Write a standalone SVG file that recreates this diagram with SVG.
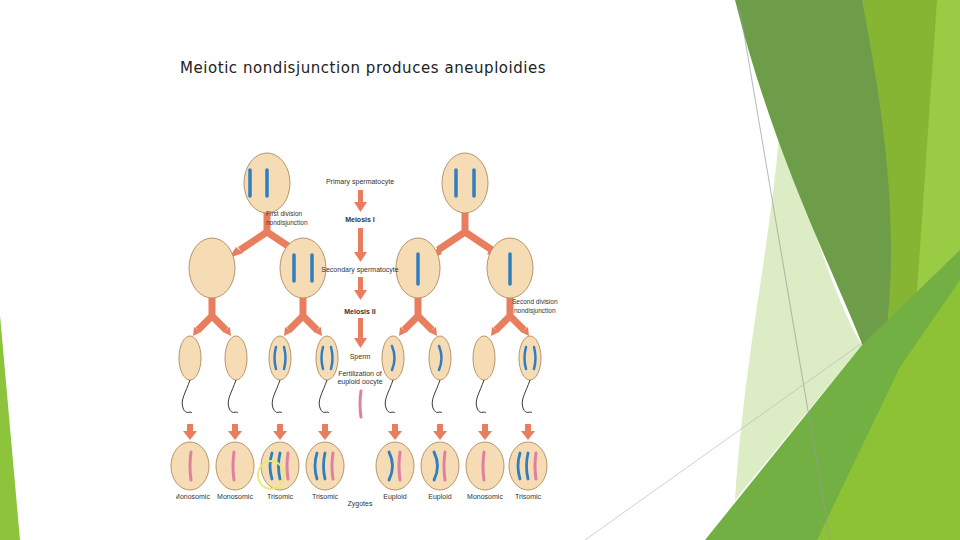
<svg xmlns="http://www.w3.org/2000/svg" width="960" height="540" viewBox="0 0 960 540">
<defs>
<style>
.cell{fill:#f6dcb4;stroke:#b89468;stroke-width:1}
.b{stroke:#2f7fc0;stroke-width:3.5;stroke-linecap:round;fill:none}
.p{stroke:#e080a0;stroke-width:3;stroke-linecap:round;fill:none}
.ar{fill:#e97e5e}
.y{stroke:#e97e5e;stroke-width:7;fill:none}
.t{font-family:"Liberation Sans",Arial,sans-serif;font-size:6.5px;fill:#333}
.lb{font-family:"Liberation Sans",Arial,sans-serif;font-size:7px;fill:#333;text-anchor:middle}
.tail{stroke:#222;stroke-width:0.9;fill:none}
</style>
<clipPath id="cl"><rect x="176" y="0" width="784" height="540"/></clipPath>
</defs>
<rect width="960" height="540" fill="#fff"/>
<g id="bg">
<polygon points="0,315 20,540 0,540" fill="#8cc43c"/>
<polygon points="862,0 960,0 960,540 870,540" fill="#86b534"/>
<polygon points="937,0 960,0 960,540 900,540" fill="#9acb45"/>
<path d="M780,125 C815,240 845,320 862,345 L735,500 C745,350 770,250 780,125Z" fill="#dcecc4"/>
<path d="M735,0 L862,0 C885,120 905,250 878,387 C850,300 780,180 735,0Z" fill="#6e9d4a"/>
<polygon points="705,540 862,345 960,250 960,540" fill="#72b043"/>
<polygon points="817,540 900,367 960,280 960,540" fill="#8dc234"/>
<line x1="740" y1="10" x2="830" y2="540" stroke="#999" stroke-width="0.7"/>
<line x1="585" y1="540" x2="862" y2="343" stroke="#bbb" stroke-width="0.7"/>
</g>
<text x="180" y="73" font-family="'DejaVu Sans',sans-serif" font-size="15" letter-spacing="0.55" fill="#222">Meiotic nondisjunction produces aneuploidies</text>
<g id="connectors">
<path class="y" d="M267,212V232M267,232L240,250M267,232L294,250"/>
<path class="y" d="M465,212V232M465,232L438,250M465,232L492,250"/>
<path class="y" d="M212,298V316M212,316L198,330M212,316L226,330"/>
<path class="y" d="M303,298V316M303,316L289,330M303,316L317,330"/>
<path class="y" d="M418,298V316M418,316L404,330M418,316L432,330"/>
<path class="y" d="M510,298V316M510,316L496,330M510,316L524,330"/>
<polygon class="ar" points="229,258 236,247 243,253"/>
<polygon class="ar" points="302,259 296,247 289,253"/>
<polygon class="ar" points="430,259 438,247 442,254"/>
<polygon class="ar" points="500,259 492,247 487,254"/>
<polygon class="ar" points="193,336 194,327 201,332"/>
<polygon class="ar" points="231,336 230,327 223,332"/>
<polygon class="ar" points="284,336 285,327 292,332"/>
<polygon class="ar" points="322,336 321,327 314,332"/>
<polygon class="ar" points="399,336 400,327 407,332"/>
<polygon class="ar" points="437,336 436,327 429,332"/>
<polygon class="ar" points="491,336 492,327 499,332"/>
<polygon class="ar" points="529,336 528,327 521,332"/>
<g id="center-arrows">
<polygon class="ar" points="358,190 363,190 363,202 367,202 360.5,212 354,202 358,202"/>
<polygon class="ar" points="358,228 363,228 363,252 367,252 360.5,262 354,252 358,252"/>
<polygon class="ar" points="358,277 363,277 363,290 367,290 360.5,300 354,290 358,290"/>
<polygon class="ar" points="358,318 363,318 363,338 367,338 360.5,348 354,338 358,338"/>
</g>
<g id="small-arrows">
<polygon class="ar" points="187,424 193,424 193,431 197,431 190,440 183,431 187,431"/>
<polygon class="ar" points="232,424 238,424 238,431 242,431 235,440 228,431 232,431"/>
<polygon class="ar" points="277,424 283,424 283,431 287,431 280,440 273,431 277,431"/>
<polygon class="ar" points="322,424 328,424 328,431 332,431 325,440 318,431 322,431"/>
<polygon class="ar" points="392,424 398,424 398,431 402,431 395,440 388,431 392,431"/>
<polygon class="ar" points="437,424 443,424 443,431 447,431 440,440 433,431 437,431"/>
<polygon class="ar" points="482,424 488,424 488,431 492,431 485,440 478,431 482,431"/>
<polygon class="ar" points="525,424 531,424 531,431 535,431 528,440 521,431 525,431"/>
</g>
</g>
<g id="top-left"><ellipse class="cell" cx="267" cy="183" rx="23" ry="30"/><path class="b" d="M250,170V196M267,170V196"/></g>
<g id="top-right"><ellipse class="cell" cx="465" cy="183" rx="23" ry="30"/><path class="b" d="M456,170V196M474,170V196"/></g>
<g id="sec1"><ellipse class="cell" cx="212" cy="268" rx="23" ry="30"/></g>
<g id="sec2"><ellipse class="cell" cx="303" cy="268" rx="23" ry="30"/><path class="b" d="M294,255V281M312,255V281"/></g>
<g id="sec3"><ellipse class="cell" cx="418" cy="268" rx="22" ry="30"/><path class="b" d="M418,254V284"/></g>
<g id="sec4"><ellipse class="cell" cx="510" cy="268" rx="23" ry="30"/><path class="b" d="M510,254V284"/></g>
<g id="sperm">
<ellipse class="cell" cx="190" cy="358" rx="11" ry="22"/><path class="tail" d="M190,380C186,392 180,400 183,408S190,410 192,413"/>
<ellipse class="cell" cx="236" cy="358" rx="11" ry="22"/><path class="tail" d="M236,380C232,392 226,400 229,408S236,410 238,413"/>
<ellipse class="cell" cx="280" cy="358" rx="11" ry="22"/><path class="b" style="stroke-width:2.5" d="M276,347Q273,358 276,369M284,347Q287,358 284,369"/><path class="tail" d="M280,380C276,392 270,400 273,408S280,410 282,413"/>
<ellipse class="cell" cx="327" cy="358" rx="11" ry="22"/><path class="b" style="stroke-width:2.5" d="M323,347Q320,358 323,369M331,347Q334,358 331,369"/><path class="tail" d="M327,380C323,392 317,400 320,408S327,410 329,413"/>
<ellipse class="cell" cx="393" cy="358" rx="11" ry="22"/><path class="b" style="stroke-width:2.5" d="M392,346Q397,358 392,370"/><path class="tail" d="M393,380C389,392 383,400 386,408S393,410 395,413"/>
<ellipse class="cell" cx="440" cy="358" rx="11" ry="22"/><path class="b" style="stroke-width:2.5" d="M439,346Q444,358 439,370"/><path class="tail" d="M440,380C436,392 430,400 433,408S440,410 442,413"/>
<ellipse class="cell" cx="484" cy="358" rx="11" ry="22"/><path class="tail" d="M484,380C480,392 474,400 477,408S484,410 486,413"/>
<ellipse class="cell" cx="530" cy="358" rx="11" ry="22"/><path class="b" style="stroke-width:2.5" d="M526,347Q523,358 526,369M534,347Q537,358 534,369"/><path class="tail" d="M530,380C526,392 520,400 523,408S530,410 532,413"/>
</g>
<path class="p" d="M361,391Q359,404 361,417"/>
<g id="zygotes">
<ellipse class="cell" cx="190" cy="466" rx="19" ry="24"/><path class="p" d="M191,452Q189,466 191,480"/>
<ellipse class="cell" cx="235" cy="466" rx="19" ry="24"/><path class="p" d="M234,452Q232,466 234,480"/>
<ellipse class="cell" cx="280" cy="466" rx="19" ry="24"/><path class="b" style="stroke-width:2.8" d="M272,453Q268,466 272,479M280,453Q277,466 280,479"/><path class="p" d="M288,453Q286,466 288,479"/>
<ellipse class="cell" cx="325" cy="466" rx="19" ry="24"/><path class="b" style="stroke-width:2.8" d="M317,453Q313,466 317,479M325,453Q322,466 325,479"/><path class="p" d="M333,453Q331,466 333,479"/>
<ellipse class="cell" cx="395" cy="466" rx="19" ry="24"/><path class="b" style="stroke-width:2.8" d="M389,452Q396,466 389,480"/><path class="p" d="M400,452Q398,466 400,480"/>
<ellipse class="cell" cx="440" cy="466" rx="19" ry="24"/><path class="b" style="stroke-width:2.8" d="M434,452Q441,466 434,480"/><path class="p" d="M445,452Q443,466 445,480"/>
<ellipse class="cell" cx="485" cy="466" rx="19" ry="24"/><path class="p" d="M484,452Q482,466 484,480"/>
<ellipse class="cell" cx="528" cy="466" rx="19" ry="24"/><path class="b" style="stroke-width:2.8" d="M520,453Q516,466 520,479M528,453Q525,466 528,479"/><path class="p" d="M536,453Q534,466 536,479"/>
<ellipse cx="271" cy="475" rx="13" ry="14" fill="none" stroke="#e4ea6a" stroke-width="1.8"/>
</g>
<g id="labels">
<text class="lb" x="360" y="184">Primary spermatocyte</text>
<text class="lb" x="360" y="222" font-weight="bold">Meiosis I</text>
<text class="lb" x="360" y="272">Secondary spermatocyte</text>
<text class="lb" x="360" y="314" font-weight="bold">Meiosis II</text>
<text class="lb" x="360" y="359">Sperm</text>
<text class="lb" x="360" y="376">Fertilization of</text>
<text class="lb" x="360" y="384">euploid oocyte</text>
<text class="t" x="266" y="216">First division</text>
<text class="t" x="266" y="225">nondisjunction</text>
<text class="t" x="512" y="304">Second division</text>
<text class="t" x="514" y="313">nondisjunction</text>
<g clip-path="url(#cl)"><text class="lb" x="192" y="499">Monosomic</text></g>
<text class="lb" x="235" y="499">Monosomic</text>
<text class="lb" x="280" y="499">Trisomic</text>
<text class="lb" x="325" y="499">Trisomic</text>
<text class="lb" x="395" y="499">Euploid</text>
<text class="lb" x="440" y="499">Euploid</text>
<text class="lb" x="485" y="499">Monosomic</text>
<text class="lb" x="528" y="499">Trisomic</text>
<text class="lb" x="360" y="506">Zygotes</text>
</g>
</svg>
